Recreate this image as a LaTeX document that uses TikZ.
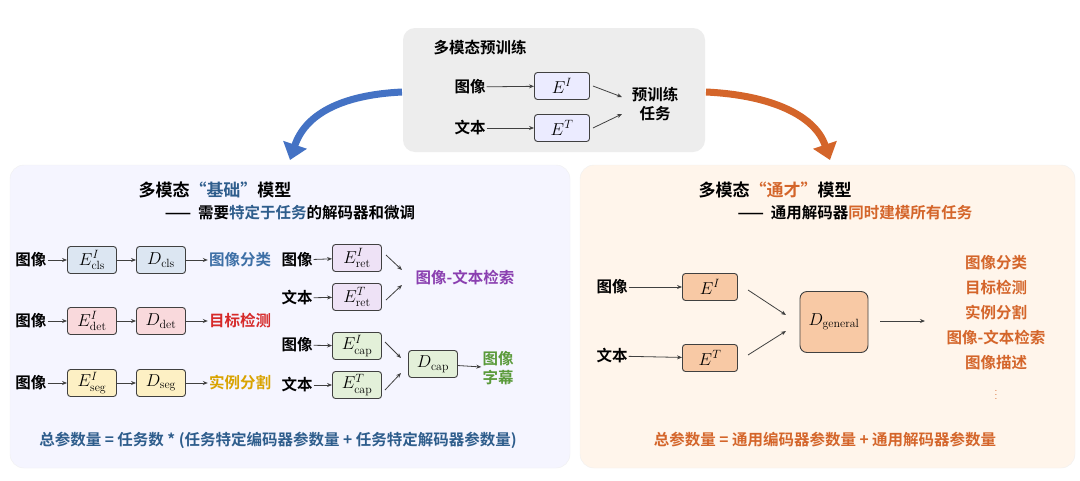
\documentclass[tikz,border=0pt]{standalone}
\usepackage{fontspec}
\newfontfamily\cjk{Noto Sans CJK SC}[BoldFont={Noto Sans CJK SC Bold}]
\usetikzlibrary{arrows.meta}
\definecolor{tblue}{HTML}{2E5D8C}
\definecolor{cblue}{HTML}{3D6FA6}
\definecolor{cred}{HTML}{D62A2A}
\definecolor{cgold}{HTML}{D9A300}
\definecolor{cpur}{HTML}{8A3FB0}
\definecolor{cgreen}{HTML}{5A9A3A}
\definecolor{corg}{HTML}{D4652A}
\definecolor{bigblue}{HTML}{4472C4}
\definecolor{fcls}{HTML}{DCE6F2}
\definecolor{fdet}{HTML}{F9D9DC}
\definecolor{fseg}{HTML}{FDF0C4}
\definecolor{fret}{HTML}{EEE2F6}
\definecolor{fcap}{HTML}{E3F0D9}
\definecolor{fgen}{HTML}{F8C9A5}
\begin{document}
\begin{tikzpicture}[x=1pt,y=-1pt,
 txt/.style={font=\cjk\bfseries\fontsize{15.5}{19}\selectfont,inner sep=1pt},
 box/.style={draw=black!75,line width=0.9pt,rounded corners=3pt,minimum width=49pt,minimum height=27pt,inner sep=0pt,font=\fontsize{17}{19}\selectfont},
 ar/.style={-{Stealth[length=5pt,width=4pt]},line width=0.8pt,black!75}]
\useasboundingbox (0,0) rectangle (1080,480);
\fill[white] (0,0) rectangle (1080,480);
% panels
\fill[black!7,rounded corners=12pt] (403,28) rectangle (705,152);
\fill[blue!4!white,draw=black!6,rounded corners=14pt] (10,165) rectangle (570,468);
\fill[orange!8!white,draw=black!6,rounded corners=14pt] (580,165) rectangle (1075,468);
% big arrows
\draw[bigblue,line width=7pt,-{Triangle[length=16pt,width=24pt]}] (402,92) .. controls (340,95) and (305,115) .. (290,160);
\draw[corg,line width=7pt,-{Triangle[length=16pt,width=24pt]}] (706,92) .. controls (770,95) and (815,115) .. (830,160);
% top
\node[txt] (tt) at (480,48) {多模态预训练};
\node[txt] (ti) at (470,87) {图像};
\node[txt] (tw) at (470,128) {文本};
\node[box,fill=blue!8,minimum width=55pt] (tei) at (562,86) {$E^I$};
\node[box,fill=blue!8,minimum width=55pt] (tet) at (562,128) {$E^T$};
\node[txt,align=center] (tp) at (655,104) {预训练\\任务};
\draw[ar] (ti) -- (tei); \draw[ar] (tw) -- (tet);
\draw[ar] (tei.east) ++(3,0) -- (622,97);
\draw[ar] (tet.east) ++(3,0) -- (622,114);
% left panel
\node[txt,font=\cjk\bfseries\fontsize{17}{19}\selectfont] (lt) at (215,190) {多模态\textcolor{tblue}{“基础”}模型};
\node[txt] (ls) at (290,213) {——\ \ 需要\textcolor{tblue}{特定于任务}的解码器和微调};
\foreach \n/\y/\c/\lab in {cls/260/cblue/图像分类, det/321/cred/目标检测, seg/383/cgold/实例分割}{
 \node[txt] (i\n) at (31,\y) {图像};
 \node[box,fill=f\n] (e\n) at (92,\y) {$E^I_{\mathrm{\n}}$};
 \node[box,fill=f\n] (d\n) at (161,\y) {$D_{\mathrm{\n}}$};
 \node[txt,text=\c] (l\n) at (240,\y) {\lab};
 \draw[ar] (i\n) -- (e\n); \draw[ar] (e\n) -- (d\n); \draw[ar] (d\n) -- (l\n);
}
\node[txt] (ir) at (297,260) {图像};
\node[txt] (wr) at (297,298) {文本};
\node[box,fill=fret] (eri) at (357,258) {$E^I_{\mathrm{ret}}$};
\node[box,fill=fret] (ert) at (357,297) {$E^T_{\mathrm{ret}}$};
\node[txt,text=cpur] (lr) at (465,278) {图像-文本检索};
\draw[ar] (ir) -- (eri); \draw[ar] (wr) -- (ert);
\draw[ar] (386,255) -- (402,270); \draw[ar] (386,300) -- (402,285);
\node[txt] (ic) at (297,345) {图像};
\node[txt] (wc) at (297,385) {文本};
\node[box,fill=fcap] (eci) at (357,346) {$E^I_{\mathrm{cap}}$};
\node[box,fill=fcap] (ect) at (357,385) {$E^T_{\mathrm{cap}}$};
\node[box,fill=fcap] (dc) at (433,364) {$D_{\mathrm{cap}}$};
\node[txt,text=cgreen,align=center] (lc) at (498,368) {图像\\字幕};
\draw[ar] (ic) -- (eci); \draw[ar] (wc) -- (ect);
\draw[ar] (385,342) -- (401,358); \draw[ar] (385,390) -- (401,373);
\draw[ar] (dc) -- (lc);
\node[txt,text=tblue] (lf) at (278,440) {总参数量 = 任务数 * (任务特定编码器参数量 + 任务特定解码器参数量)};
% right panel
\node[txt,font=\cjk\bfseries\fontsize{17}{19}\selectfont] (rt) at (775,190) {多模态\textcolor{corg}{“通才”}模型};
\node[txt] (rs) at (855,213) {——\ \ 通用解码器\textcolor{corg}{同时建模所有任务}};
\node[txt] (ri) at (612,287) {图像};
\node[txt] (rw) at (612,356) {文本};
\node[box,fill=fgen,minimum width=55pt] (rei) at (710,287) {$E^I$};
\node[box,fill=fgen,minimum width=55pt] (ret) at (710,358) {$E^T$};
\node[box,fill=fgen,minimum width=68pt,minimum height=61pt,rounded corners=7pt] (dg) at (834,322) {$D_{\mathrm{general}}$};
\draw[ar] (ri) -- (rei); \draw[ar] (rw) -- (ret);
\draw[ar] (748,290) -- (786,315); \draw[ar] (748,355) -- (786,331);
\coordinate (oa) at (925,321);
\draw[ar] (880,321) -- (oa);
\foreach \t [count=\k] in {图像分类,目标检测,实例分割,图像-文本检索,图像描述}
 \node[txt,text=corg] (o\k) at (996,238+25*\k) {\t};
\node[text=corg,inner sep=0pt] (od) at (996,392) {$\vdots$};
\node[txt,text=corg] (rf) at (825,440) {总参数量 = 通用编码器参数量 + 通用解码器参数量};
\end{tikzpicture}
\end{document}
